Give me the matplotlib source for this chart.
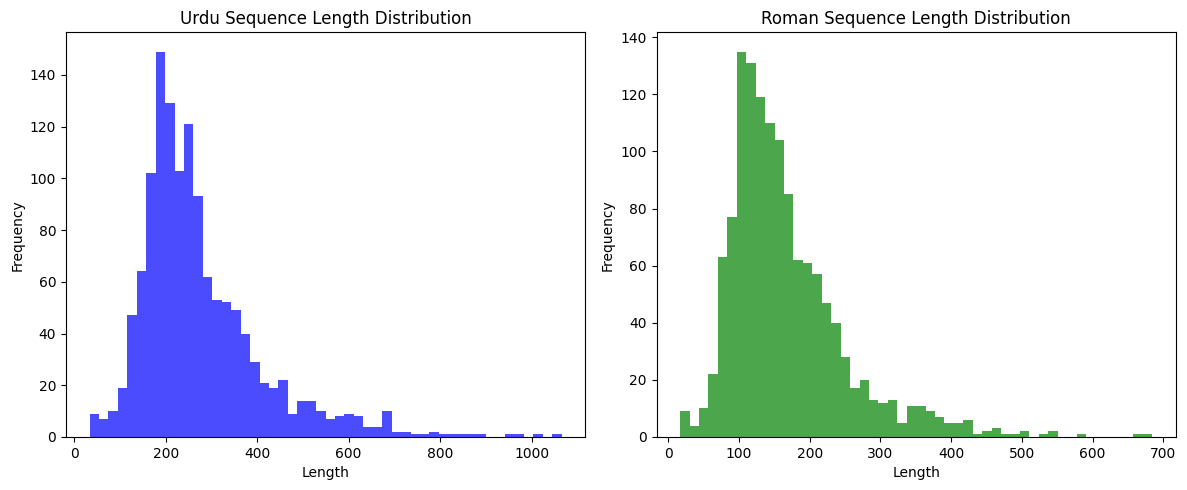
import matplotlib.pyplot as plt
import numpy as np

# bin counts (50 bins each)
urdu_counts = [9, 7, 10, 19, 47, 64, 102, 149, 129, 103,
               121, 93, 62, 53, 52, 49, 40, 29, 21, 19,
               22, 9, 14, 14, 10, 7, 8, 9, 8, 4,
               4, 10, 2, 2, 1, 1, 2, 1, 1, 1,
               1, 1, 0, 0, 1, 1, 0, 1, 0, 1]
urdu_range = (33.4, 1065.6)

roman_counts = [9, 4, 10, 22, 63, 77, 135, 131, 119, 110,
                104, 85, 62, 61, 57, 47, 40, 28, 17, 20,
                13, 12, 13, 5, 11, 11, 9, 7, 5, 5,
                6, 1, 2, 3, 1, 1, 2, 0, 1, 2,
                0, 0, 1, 0, 0, 0, 0, 0, 1, 1]
roman_range = (17.0, 684.0)

def histo(ax, counts, rng, color, title):
    edges = np.linspace(rng[0], rng[1], len(counts) + 1)
    centers = (edges[:-1] + edges[1:]) / 2
    ax.hist(centers, bins=edges, weights=counts, color=color, alpha=0.7)
    ax.set_title(title)
    ax.set_xlabel('Length')
    ax.set_ylabel('Frequency')

fig, (ax1, ax2) = plt.subplots(1, 2, figsize=(11.87, 4.9), dpi=100)
histo(ax1, urdu_counts, urdu_range, 'blue', 'Urdu Sequence Length Distribution')
histo(ax2, roman_counts, roman_range, 'green', 'Roman Sequence Length Distribution')
fig.subplots_adjust(left=0.0556, right=0.9905, bottom=0.1082, top=0.9341, wspace=0.1375)
plt.savefig('out.png')
